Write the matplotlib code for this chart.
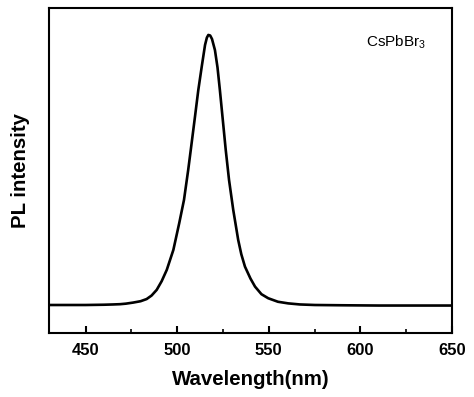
import numpy as np
from matplotlib import pyplot as plt
from matplotlib.ticker import MultipleLocator

# PL spectrum (normalised intensity)
wavelength = [430, 440, 450, 460, 465, 468.8, 472, 476.0, 480, 483.3, 486,
              488.8, 491.5, 494.3, 497.9, 501.1, 503.7, 506.0, 507.4, 509.7,
              511.5, 513.4, 515.2, 516.2, 517.0, 518.0, 519.0, 520.6, 522,
              523.3, 526.5, 528.3, 530.6, 533.3, 535, 537.0, 540, 542.5, 546,
              549.7, 555, 560.6, 567, 575.2, 590, 610, 630, 650]
intensity = [0.0, 0.0, 0.0, 0.001, 0.002, 0.003, 0.005, 0.009, 0.014, 0.022,
             0.035, 0.056, 0.088, 0.130, 0.204, 0.303, 0.389, 0.500, 0.574,
             0.697, 0.795, 0.883, 0.963, 0.990, 1.0, 0.998, 0.985, 0.944,
             0.880, 0.796, 0.574, 0.463, 0.352, 0.241, 0.188, 0.142, 0.098,
             0.068, 0.040, 0.025, 0.012, 0.006, 0.002, 0.0, -0.001, -0.002,
             -0.002, -0.002]

x_ticks = [450, 500, 550, 600, 650]
sample = 'CsPbBr$_3$'

fig = plt.figure(figsize=(4.74, 3.97), dpi=100)
ax = fig.add_axes([0.1034, 0.161, 0.850, 0.819])

ax.plot(wavelength, intensity, color='k', lw=1.9)

ax.set_xlim(430, 650)
ax.set_ylim(-0.104, 1.1)

ax.xaxis.set_major_locator(MultipleLocator(50))
ax.xaxis.set_minor_locator(MultipleLocator(25))
ax.set_xticks(x_ticks)
ax.set_yticks([])
ax.tick_params(axis='x', which='major', direction='in', length=5, width=1.5,
               pad=7)
ax.tick_params(axis='x', which='minor', direction='in', length=3, width=1.2)

for s in ax.spines.values():
    s.set_linewidth(1.5)

for lab in ax.get_xticklabels():
    lab.set_fontfamily('Liberation Sans')
    lab.set_fontweight('bold')
    lab.set_fontsize(12)

ax.set_xlabel('Wavelength(nm)', family='Liberation Sans', weight='bold',
              fontsize=14.7, labelpad=9)
ax.set_ylabel('PL intensity', family='Liberation Sans', weight='bold',
              fontsize=14.7, labelpad=14)

plt.rcParams['mathtext.fontset'] = 'custom'
plt.rcParams['mathtext.rm'] = 'Liberation Sans'
ax.text(0.862, 0.895, sample, transform=ax.transAxes, ha='center',
        va='center', family='Liberation Sans', fontsize=11)

plt.savefig('out.png', dpi=100)
